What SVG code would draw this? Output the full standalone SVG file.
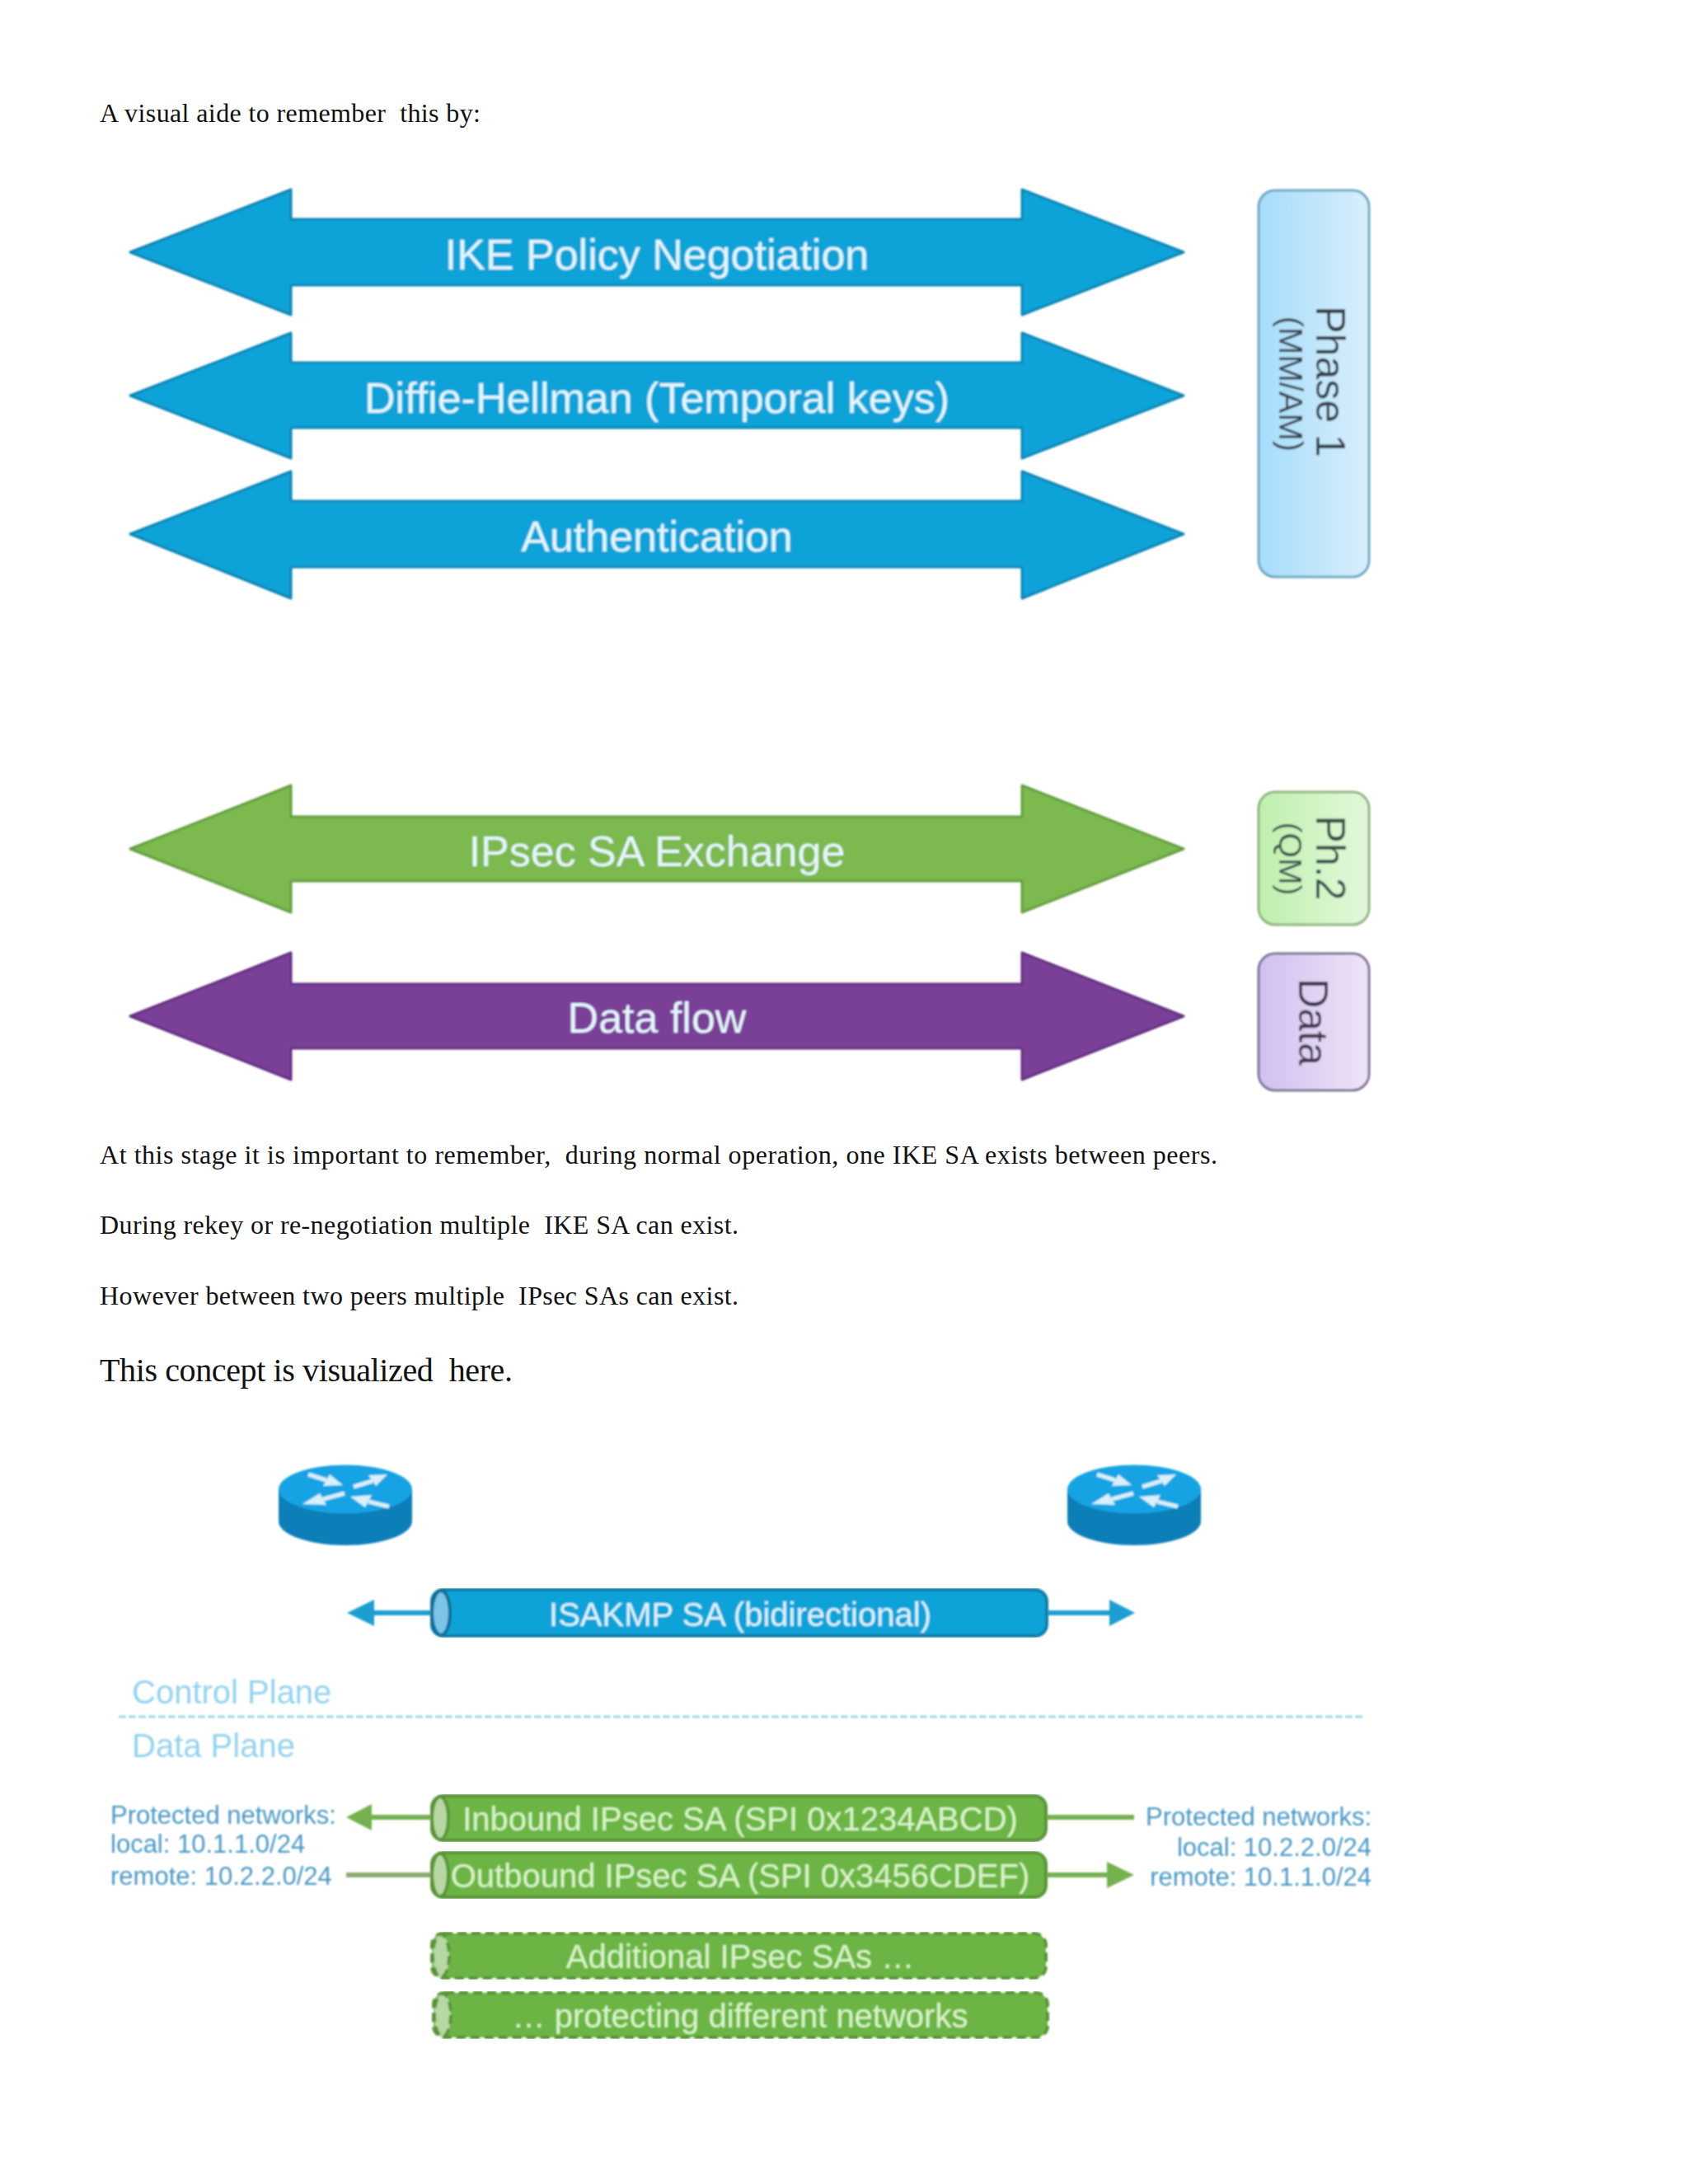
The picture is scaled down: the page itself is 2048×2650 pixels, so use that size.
<svg xmlns="http://www.w3.org/2000/svg" width="2048" height="2650" viewBox="0 0 2048 2650">
<style>
.body{font-family:"Liberation Serif","Times New Roman",serif;font-size:32px;fill:#111;white-space:pre}
.lab{font-family:"Liberation Sans",Arial,sans-serif;text-anchor:middle}
.big{font-size:52px;fill:#e4f6fc}
.side{fill:#34404a}
.blueA{fill:#0ba3d9;stroke:#0c86b4;stroke-width:3;stroke-linejoin:round}
.greenA{fill:#7cb94f;stroke:#659f3f;stroke-width:3;stroke-linejoin:round}
.purpA{fill:#7a3f98;stroke:#643183;stroke-width:3;stroke-linejoin:round}
.box{stroke-width:3}
.plane{font-family:"Liberation Sans",Arial,sans-serif;font-size:40px;fill:#93d3ee}
.net{font-family:"Liberation Sans",Arial,sans-serif;font-size:31px;fill:#4a98c4}
.cyl{font-size:40px;fill:#d9f5c8}
.gc{fill:#6cb545;stroke:#5a9438;stroke-width:4}
.gd{fill:#6cb545;stroke:#5a9438;stroke-width:4;stroke-dasharray:11 6}
.ge{fill:#b7d8a3;stroke:#5a9438;stroke-width:4}
.ged{fill:#b7d8a3;stroke:#5a9438;stroke-width:4;stroke-dasharray:11 6}
.gl{stroke:#76b14f;stroke-width:6;fill:none}
.gl2{stroke:#8fac72;stroke-width:6;fill:none}
.bl{stroke:#1b9fd0;stroke-width:6;fill:none}
.soft{filter:url(#soft)}
</style>
<defs>
<filter id="soft" x="-2%" y="-2%" width="104%" height="104%"><feGaussianBlur stdDeviation="0.8"/></filter>
<linearGradient id="gb"><stop offset="0" stop-color="#a6dcfb"/><stop offset="1" stop-color="#d8effc"/></linearGradient>
<linearGradient id="gg"><stop offset="0" stop-color="#bff0ac"/><stop offset="1" stop-color="#e4f8dc"/></linearGradient>
<linearGradient id="gp"><stop offset="0" stop-color="#d0c0f0"/><stop offset="1" stop-color="#eee4f6"/></linearGradient>
<g id="router">
<path d="M338 1807V1846C338 1862 375 1875 419 1875S500 1862 500 1846V1807Z" fill="#0c7fb8"/>
<ellipse cx="419" cy="1807" rx="81" ry="29.5" fill="#12a3e4"/>
<g fill="#d8f0fa" stroke="#d8f0fa">
<path d="M374 1789L396 1796" stroke-width="5" fill="none"/><path d="M416 1802L400 1789L392 1803Z" stroke="none"/>
<path d="M429 1804L452 1797" stroke-width="5" fill="none"/><path d="M470 1789L447 1790L456 1803Z" stroke="none"/>
<path d="M418 1812L392 1819" stroke-width="5" fill="none"/><path d="M367 1825L388 1812L396 1826Z" stroke="none"/>
<path d="M472 1828L447 1822" stroke-width="5" fill="none"/><path d="M425 1816L451 1814L443 1829Z" stroke="none"/>
</g>
</g>
</defs>

<rect width="2048" height="2650" fill="#fff"/>

<g id="page-text">
<text class="body" x="121" y="148" textLength="462">A visual aide to remember  this by:</text>
<text class="body" x="121" y="1412" textLength="1356">At this stage it is important to remember,  during normal operation, one IKE SA exists between peers.</text>
<text class="body" x="121" y="1497" textLength="775">During rekey or re-negotiation multiple  IKE SA can exist.</text>
<text class="body" x="121" y="1583" textLength="775">However between two peers multiple  IPsec SAs can exist.</text>
<text class="body" x="121" y="1676" style="font-size:40px" textLength="501">This concept is visualized  here.</text>
</g>

<g id="connectors" class="soft">
<path class="bl" d="M450 1957H523M1271 1957H1350"/>
<path fill="#1b9fd0" d="M421 1957L454 1941V1973Z M1377 1957L1346 1941V1973Z"/>
<path class="gl" d="M448 2205H523M1270 2205H1376M1270 2275H1345"/>
<path class="gl2" d="M420 2275H523"/>
<path fill="#76b14f" d="M420 2205L451 2189V2221Z M1376 2275L1343 2259V2291Z"/>
<path d="M144 2083H1653" stroke="#9ed6e8" stroke-width="3" stroke-dasharray="9 3" fill="none"/>
</g>

<g id="arrow-ike" class="soft"><path class="blueA" d="M158 306L353 230V266H1240V230L1436 306L1240 382V346H353V382Z"/><text class="lab big" x="797" y="327">IKE Policy Negotiation</text></g>
<g id="arrow-dh" class="soft"><path class="blueA" d="M158 480L353 404V440H1240V404L1436 480L1240 556V519H353V556Z"/><text class="lab big" x="797" y="501">Diffie-Hellman (Temporal keys)</text></g>
<g id="arrow-auth" class="soft"><path class="blueA" d="M158 648L353 572V608H1240V572L1436 648L1240 726V688H353V726Z"/><text class="lab big" x="797" y="669">Authentication</text></g>
<g id="arrow-ipsec" class="soft"><path class="greenA" d="M158 1030L353 953V991H1240V953L1436 1030L1240 1107V1069H353V1107Z"/><text class="lab big" x="797" y="1051">IPsec SA Exchange</text></g>
<g id="arrow-data" class="soft"><path class="purpA" d="M158 1233L353 1156V1194H1240V1156L1436 1233L1240 1310V1272H353V1310Z"/><text class="lab big" x="797" y="1253">Data flow</text></g>

<g id="box-phase1" class="soft"><rect class="box" x="1527" y="231" width="134" height="469" rx="20" fill="url(#gb)" stroke="#6fa9c4"/>
<text class="lab side" transform="translate(1597 463) rotate(90)" font-size="50">Phase 1</text>
<text class="lab side" transform="translate(1552 466) rotate(90)" font-size="40">(MM/AM)</text></g>
<g id="box-ph2" class="soft"><rect class="box" x="1527" y="961" width="134" height="161" rx="20" fill="url(#gg)" stroke="#8fb57f"/>
<text class="lab" fill="#34504a" transform="translate(1597 1041) rotate(90)" font-size="50">Ph.2</text>
<text class="lab" fill="#34504a" transform="translate(1552 1042) rotate(90)" font-size="39">(QM)</text></g>
<g id="box-data" class="soft"><rect class="box" x="1527" y="1157" width="134" height="166" rx="20" fill="url(#gp)" stroke="#7f7496"/>
<text class="lab" fill="#40384e" transform="translate(1576 1240) rotate(90)" font-size="50">Data</text></g>

<g id="router-left" class="soft"><use href="#router"/></g>
<g id="router-right" class="soft"><use href="#router" x="957"/></g>

<g id="cyl-isakmp" class="soft"><rect x="524" y="1929" width="746" height="56" rx="14" fill="#0ba3d9" stroke="#0f7fa8" stroke-width="4"/><ellipse cx="535" cy="1957" rx="11" ry="27" fill="#7cc4e8" stroke="#0f6f98" stroke-width="4"/><text class="lab" fill="#dff4fc" x="898" y="1973" font-size="40">ISAKMP SA (bidirectional)</text></g>

<g id="labels-planes" class="soft">
<text class="plane" x="160" y="2067">Control Plane</text>
<text class="plane" x="160" y="2132">Data Plane</text>
</g>
<g id="nets-left" class="soft">
<text class="net" x="134" y="2213">Protected networks:</text>
<text class="net" x="134" y="2248">local: 10.1.1.0/24</text>
<text class="net" x="134" y="2287">remote: 10.2.2.0/24</text>
</g>
<g id="nets-right" class="soft" text-anchor="end">
<text class="net" x="1664" y="2215">Protected networks:</text>
<text class="net" x="1664" y="2252">local: 10.2.2.0/24</text>
<text class="net" x="1664" y="2288">remote: 10.1.1.0/24</text>
</g>

<g id="cyl-in" class="soft"><rect class="gc" x="524" y="2179" width="745" height="54" rx="14"/><ellipse class="ge" cx="534" cy="2206" rx="10" ry="26"/><text class="lab cyl" x="898" y="2221">Inbound IPsec SA (SPI 0x1234ABCD)</text></g>
<g id="cyl-out" class="soft"><rect class="gc" x="524" y="2248" width="745" height="54" rx="14"/><ellipse class="ge" cx="534" cy="2275" rx="10" ry="26"/><text class="lab cyl" x="898" y="2290">Outbound IPsec SA (SPI 0x3456CDEF)</text></g>
<g id="cyl-add" class="soft"><rect class="gd" x="524" y="2346" width="745" height="54" rx="14"/><ellipse class="ged" cx="535" cy="2373" rx="10" ry="26"/><text class="lab cyl" x="898" y="2388">Additional IPsec SAs …</text></g>
<g id="cyl-diff" class="soft"><rect class="gd" x="526" y="2418" width="745" height="54" rx="14"/><ellipse class="ged" cx="537" cy="2445" rx="10" ry="26"/><text class="lab cyl" x="898" y="2460">… protecting different networks</text></g>
</svg>
